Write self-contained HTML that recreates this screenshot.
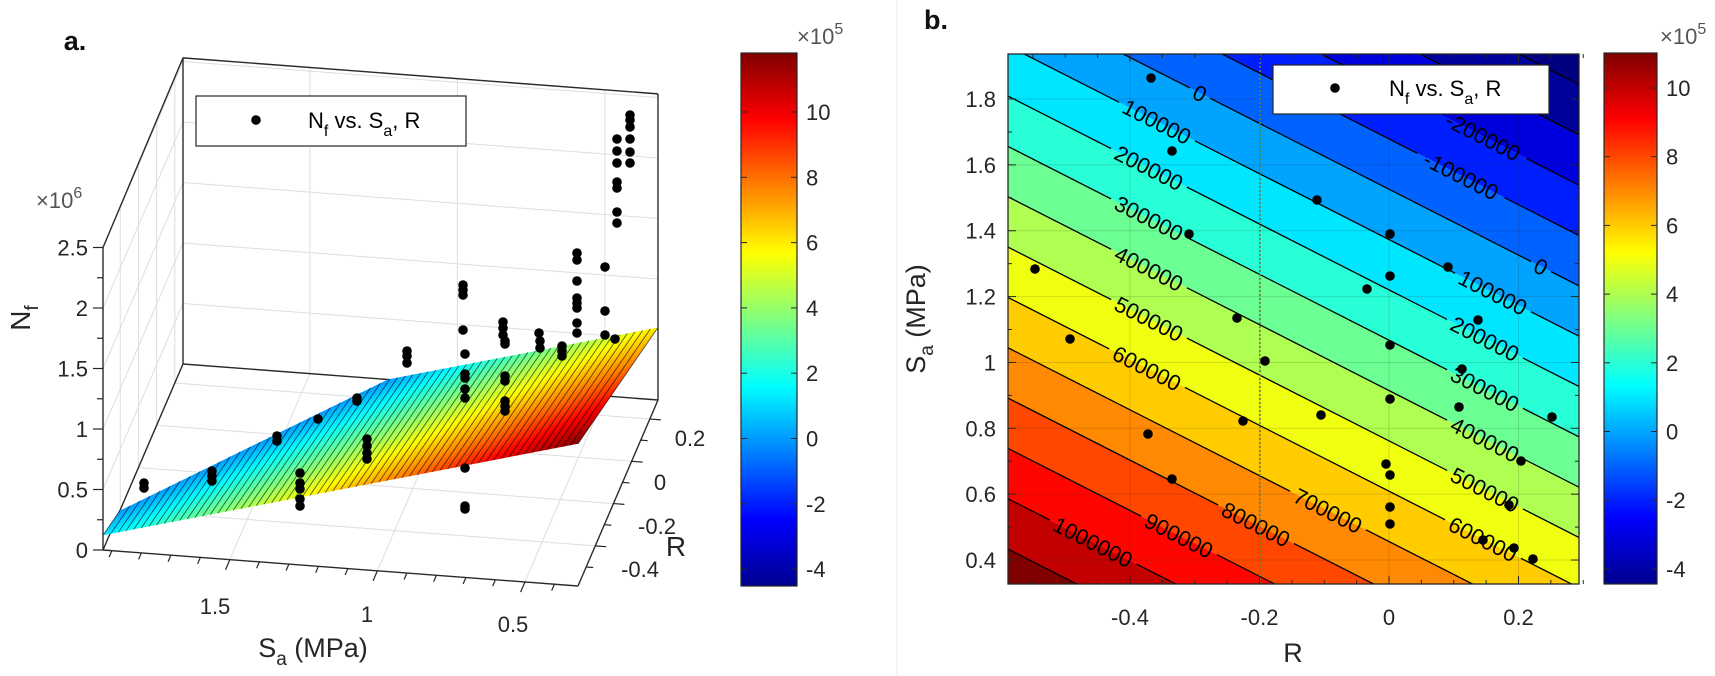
<!DOCTYPE html>
<html><head><meta charset="utf-8"><style>
html,body{margin:0;padding:0;background:#fff;width:1715px;height:676px;overflow:hidden;}
svg{display:block;font-family:"Liberation Sans",Arial,sans-serif;}
</style></head><body>
<svg id="s" xmlns="http://www.w3.org/2000/svg" width="1715" height="676" viewBox="0 0 1715 676">
<defs>
<clipPath id="cp"><rect x="1008" y="54" width="571" height="530"/></clipPath>
<linearGradient id="cbR" x1="0" y1="1" x2="0" y2="0">
<stop offset="0" stop-color="#00008f"/><stop offset="0.125" stop-color="#0000ff"/><stop offset="0.375" stop-color="#00ffff"/><stop offset="0.625" stop-color="#ffff00"/><stop offset="0.875" stop-color="#ff0000"/><stop offset="1" stop-color="#800000"/>
</linearGradient>
</defs>
</svg>
<script>
const NS='http://www.w3.org/2000/svg';
const svg=document.getElementById('s');
const defs=svg.querySelector('defs');
function el(tag,attrs,text,parent){const e=document.createElementNS(NS,tag);for(const k in attrs)e.setAttribute(k,attrs[k]);if(text!=null)e.textContent=text;(parent||svg).appendChild(e);return e;}
function jet(t){t=Math.max(0,Math.min(1,t));
 const c=v=>Math.round(255*Math.min(Math.max(v,0),1));
 return `rgb(${c(Math.min(4*t-1.5,-4*t+4.5))},${c(Math.min(4*t-0.5,-4*t+3.5))},${c(Math.min(4*t+0.5,-4*t+2.5))})`;}
const AX='#262626';
const TF=22;
function line(x1,y1,x2,y2,st,w,extra,parent){const a={x1,y1,x2,y2,stroke:st,'stroke-width':w};Object.assign(a,extra||{});return el('line',a,null,parent);}
function txt(x,y,s,size,anchor,extra){const a={x,y,'font-size':size,'text-anchor':anchor||'middle',fill:AX};Object.assign(a,extra||{});return el('text',a,s);}
function legendText(x,y){const t=el('text',{x,y,'font-size':22,fill:'#000'});
 el('tspan',{},'N',t);el('tspan',{dy:8,'font-size':16},'f',t);el('tspan',{dy:-8},'  vs. S',t);el('tspan',{dy:8,'font-size':16},'a',t);el('tspan',{dy:-8},', R',t);}

line(897,0,897,676,'#ececec',1);

// ================= RIGHT PANEL =================
const K=654300, S0=1.526;
const X=R=>1389+647.5*R, Y=Sa=>99-(Sa-1.8)*329.3;
function lineY(s,x){const R=(x-1389)/647.5;return Y(s-R);}
const g=el('g',{'clip-path':'url(#cp)'});
for(let L=-700000;L<=1300000;L+=100000){
 const sH=S0-L/K, sL=S0-(L+100000)/K, x0=990,x1=1600;
 el('polygon',{points:`${x0},${lineY(sH,x0)} ${x1},${lineY(sH,x1)} ${x1},${lineY(sL,x1)} ${x0},${lineY(sL,x0)}`,fill:jet((L+440000)/1540000)},null,g);
}
for(const R of [-0.4,-0.2,0,0.2]) line(X(R),54,X(R),584,'rgba(30,30,30,0.15)',1,{},g);
for(let v=0.4;v<1.85;v+=0.2) line(1008,Y(v),1579,Y(v),'rgba(30,30,30,0.15)',1,{},g);
const labs=[[0,1200],[100000,1157],[200000,1149],[300000,1149],[400000,1149],[500000,1149],[600000,1147],[-200000,1483],[-100000,1461],[0,1541],[100000,1493],[200000,1485],[300000,1485],[400000,1485],[500000,1485],[600000,1483],[700000,1328],[800000,1256],[900000,1179],[1000000,1093]];
const mask=el('mask',{id:'lm',maskUnits:'userSpaceOnUse',x:0,y:0,width:1715,height:676},null,defs);
el('rect',{x:0,y:0,width:1715,height:676,fill:'#fff'},null,mask);
for(const [L,x] of labs){const y=lineY(S0-L/K,x);const w=String(L).length*12.5+10;
 el('rect',{x:x-w/2,y:y-9,width:w,height:18,fill:'#000',transform:`rotate(26.96 ${x} ${y})`},null,mask);}
const gl=el('g',{mask:'url(#lm)'},null,g);
for(let L=-400000;L<=1100000;L+=100000){const s=S0-L/K;line(990,lineY(s,990),1600,lineY(s,1600),'#000',1.3,{},gl);}
for(const [L,x] of labs){const y=lineY(S0-L/K,x);
 el('text',{x,y:y+8,'font-size':22,'text-anchor':'middle',fill:'#000',transform:`rotate(26.96 ${x} ${y})`},String(L),g);}
line(1260,54,1260,584,'#6f7f45',1.6,{'stroke-dasharray':'2,2'});
const rd=[[1151,78],[1172,151],[1317,200],[1189,234],[1390,234],[1035,269],[1448,267],[1390,276],[1367,289],[1237,318],[1478,320],[1070,339],[1390,345],[1265,361],[1462,369],[1390,399],[1459,407],[1321,415],[1552,417],[1243,421],[1148,434],[1386,464],[1521,461],[1390,475],[1172,479],[1390,507],[1509,505],[1390,524],[1483,540],[1514,548],[1533,559]];
for(const [x,y] of rd) el('circle',{cx:x,cy:y,r:4.8,fill:'#000'});
el('rect',{x:1008,y:54,width:571,height:530,fill:'none',stroke:AX,'stroke-width':1.3});
for(let R=-0.55;R<0.3;R+=0.05){const x=X(R);const maj=Math.abs(Math.round(R*10)-R*10)<1e-6&&Math.round(R*10)%2==0;const l=maj?8:4;
 line(x,584,x,584-l,AX,1);line(x,54,x,54+l,AX,1);}
for(const R of [-0.4,-0.2,0,0.2]) txt(X(R),625,R==0?'0':String(R),TF);
for(let v=0.4;v<1.85;v+=0.1){const y=Y(v);const maj=Math.round(v*10)%2==0;const l=maj?8:4;line(1008,y,1008+l,y,AX,1);line(1579,y,1579-l,y,AX,1);
 if(maj){let s=(Math.round(v*10)/10).toString();txt(996,y+8,s,TF,'end');}}
txt(1293,662,'R',27);
{const t=el('text',{x:0,y:0,'font-size':27,'text-anchor':'middle',fill:AX,transform:'translate(925,319) rotate(-90)'});
 el('tspan',{},'S',t);el('tspan',{dy:8,'font-size':19},'a',t);el('tspan',{dy:-8},' (MPa)',t);}
el('rect',{x:1273,y:65,width:276,height:49,fill:'#fff',stroke:AX,'stroke-width':1.2});
el('circle',{cx:1335,cy:88,r:4.8,fill:'#000'});
legendText(1389,96);
txt(936,29,'b.',27,'middle',{'font-weight':'bold',fill:'#111'});
el('rect',{x:1604,y:53,width:53,height:531,fill:'url(#cbR)',stroke:AX,'stroke-width':1.2});
for(let v=10;v>=-4;v-=2){const y=88+(10-v)/2*68.7;line(1657,y,1651,y,AX,1);line(1604,y,1610,y,AX,1);txt(1666,y+8,String(v),TF,'start');}
{const t=el('text',{x:1660,y:44,'font-size':22,fill:'#555'});el('tspan',{},'×10',t);el('tspan',{dy:-10,'font-size':16},'5',t);}

// ================= LEFT PANEL =================
function P(Sa,R,z){const a=(1.93-Sa)/1.61,b=(R+0.59)/0.88;return [103+475*a+80*b,550+36*a-186*b-121*z];}
function L3(p,q,st,w){line(p[0],p[1],q[0],q[1],st,w);}
const GR='#dedede';
for(const Sa of [1.5,1,0.5]) L3(P(Sa,0.29,0),P(Sa,0.29,2.53),GR,1);
for(const z of [0.5,1,1.5,2,2.5]) L3(P(1.93,0.29,z),P(0.32,0.29,z),GR,1);
for(const R of [-0.4,-0.2,0,0.2]) L3(P(1.93,R,0),P(1.93,R,2.53),GR,1);
for(const z of [0.5,1,1.5,2,2.5]) L3(P(1.93,-0.59,z),P(1.93,0.29,z),GR,1);
for(const Sa of [1.5,1,0.5]) L3(P(Sa,-0.59,0),P(Sa,0.29,0),GR,1);
for(const R of [-0.4,-0.2,0,0.2]) L3(P(1.93,R,0),P(0.32,R,0),GR,1);
const BX='#2a2a2a';
L3(P(1.93,0.29,0),P(1.93,0.29,2.53),BX,1.4);
L3(P(0.32,0.29,0),P(0.32,0.29,2.53),BX,1.4);
L3(P(1.93,0.29,2.53),P(0.32,0.29,2.53),BX,1.4);
L3(P(1.93,-0.59,2.5),P(1.93,0.29,2.53),BX,1.4);
L3(P(1.93,0.29,0),P(0.32,0.29,0),BX,1.4);
L3(P(1.93,-0.59,0),P(1.93,0.29,0),BX,1.4);
L3(P(1.93,-0.59,0),P(1.93,-0.59,2.5),BX,1.4);
L3(P(1.93,-0.59,0),P(0.32,-0.59,0),BX,1.4);
L3(P(0.32,-0.59,0),P(0.32,0.29,0),BX,1.4);
const Nf=(Sa,R)=>K*(S0-Sa-R);
const corners=[[1.93,-0.59],[0.32,-0.59],[0.32,0.29],[1.236,0.29],[1.93,-0.404]];
const pts=corners.map(([s,r])=>P(s,r,Math.max(0,Nf(s,r))/1e6));
{const A=[[0.32,-0.59],[1.93,-0.59],[0.32,0.29]].map(([s,r])=>{const p=P(s,r,Nf(s,r)/1e6);return [p[0],p[1],Nf(s,r)];});
 const [x0,y0,n0]=A[0],[x1,y1,n1]=A[1],[x2,y2,n2]=A[2];
 const det=(x1-x0)*(y2-y0)-(x2-x0)*(y1-y0);
 const cx=((n1-n0)*(y2-y0)-(n2-n0)*(y1-y0))/det, cy=((x1-x0)*(n2-n0)-(x2-x0)*(n1-n0))/det;
 const c2=cx*cx+cy*cy, nmin=-450000,nmax=1180000;
 const a1=[x0+(nmin-n0)*cx/c2,y0+(nmin-n0)*cy/c2],a2=[x0+(nmax-n0)*cx/c2,y0+(nmax-n0)*cy/c2];
 const lg=el('linearGradient',{id:'sg',gradientUnits:'userSpaceOnUse',x1:a1[0],y1:a1[1],x2:a2[0],y2:a2[1]},null,defs);
 [[0,'#00008f'],[0.125,'#0000ff'],[0.375,'#00ffff'],[0.625,'#ffff00'],[0.875,'#ff0000'],[1,'#800000']].forEach(([o,c])=>el('stop',{offset:o,'stop-color':c},null,lg));}
el('polygon',{points:pts.map(p=>p.join(',')).join(' '),fill:'url(#sg)'});
for(let i=0;i<=62;i++){const Sa=0.32+1.61*i/62;const Rm=Math.min(0.29,S0-Sa);
 if(Rm<=-0.59)continue;const p=P(Sa,-0.59,Nf(Sa,-0.59)/1e6),q=P(Sa,Rm,Math.max(0,Nf(Sa,Rm))/1e6);L3(p,q,'rgba(0,0,0,0.62)',0.9);}
const ld=[[630,115],[630,120],[630,127],[630,139],[630,152],[630,163],[617,139],[617,151],[617,163],[617,182],[617,188],[617,212],[617,223],[605,267],[605,311],[605,335],[577,253],[577,260],[577,281],[577,298],[577,303],[577,308],[577,323],[577,333],[463,285],[463,290],[463,295],[463,330],[503,322],[503,328],[503,335],[539,333],[407,351],[407,356],[407,363],[465,354],[465,374],[465,378],[465,389],[465,398],[465,468],[465,506],[465,509],[505,341],[505,344],[505,376],[505,381],[505,401],[505,406],[505,411],[540,341],[540,348],[562,346],[562,351],[562,356],[615,339],[144,483],[144,488],[212,471],[212,476],[212,481],[277,436],[277,441],[318,419],[357,398],[357,401],[300,473],[300,483],[300,489],[300,499],[300,506],[367,439],[367,446],[367,453],[367,459]];
for(const [x,y] of ld) el('circle',{cx:x,cy:y,r:4.8,fill:'#000'});
for(let z=0;z<=2.5001;z+=0.25){const p=P(1.93,-0.59,z);const maj=Math.round(z*4)%2==0;line(p[0],p[1],p[0]-(maj?10:6),p[1],AX,1.2);
 if(maj)txt(88,p[1]+8,String(z),TF,'end');}
{const t=el('text',{x:36,y:208,'font-size':22,fill:'#555'});el('tspan',{},'×10',t);el('tspan',{dy:-10,'font-size':16},'6',t);}
{const t=el('text',{x:0,y:0,'font-size':28,'text-anchor':'middle',fill:AX,transform:'translate(30,318) rotate(-90)'});
 el('tspan',{},'N',t);el('tspan',{dy:8,'font-size':19},'f',t);}
for(let k=0;k<=16;k++){const Sa=1.9-0.1*k;if(Sa<0.32)break;const p=P(Sa,-0.59,0);const maj=Math.abs(Sa*2-Math.round(Sa*2))<1e-6;const l=maj?11:7;
 line(p[0],p[1],p[0]-l*0.39,p[1]+l*0.92,AX,1.2);}
txt(215,614,'1.5',TF);txt(367,622,'1',TF);txt(513,632,'0.5',TF);
for(let k=0;k<=8;k++){const R=-0.5+0.1*k;if(R>0.29)break;const p=P(0.32,R,0);const maj=k%2==1;const l=maj?11:7;
 line(p[0],p[1],p[0]+l*0.997,p[1]+l*0.075,AX,1.2);}
txt(690,446,'0.2',TF);txt(660,490,'0',TF);txt(657,534,'-0.2',TF);txt(640,577,'-0.4',TF);
txt(676,556,'R',28);
{const t=el('text',{x:313,y:657,'font-size':27,'text-anchor':'middle',fill:AX});
 el('tspan',{},'S',t);el('tspan',{dy:8,'font-size':19},'a',t);el('tspan',{dy:-8},' (MPa)',t);}
el('rect',{x:196,y:96,width:270,height:50,fill:'#fff',stroke:AX,'stroke-width':1.2});
el('circle',{cx:256,cy:120,r:4.8,fill:'#000'});
legendText(308,128);
txt(75,50,'a.',27,'middle',{'font-weight':'bold',fill:'#111'});
el('rect',{x:741,y:53,width:56,height:533,fill:'url(#cbR)',stroke:AX,'stroke-width':1.2});
for(let v=10;v>=-4;v-=2){const y=112+(10-v)/2*65.3;line(797,y,791,y,AX,1);line(741,y,747,y,AX,1);txt(806,y+8,String(v),TF,'start');}
{const t=el('text',{x:797,y:44,'font-size':22,fill:'#555'});el('tspan',{},'×10',t);el('tspan',{dy:-10,'font-size':16},'5',t);}
</script>
</body></html>
